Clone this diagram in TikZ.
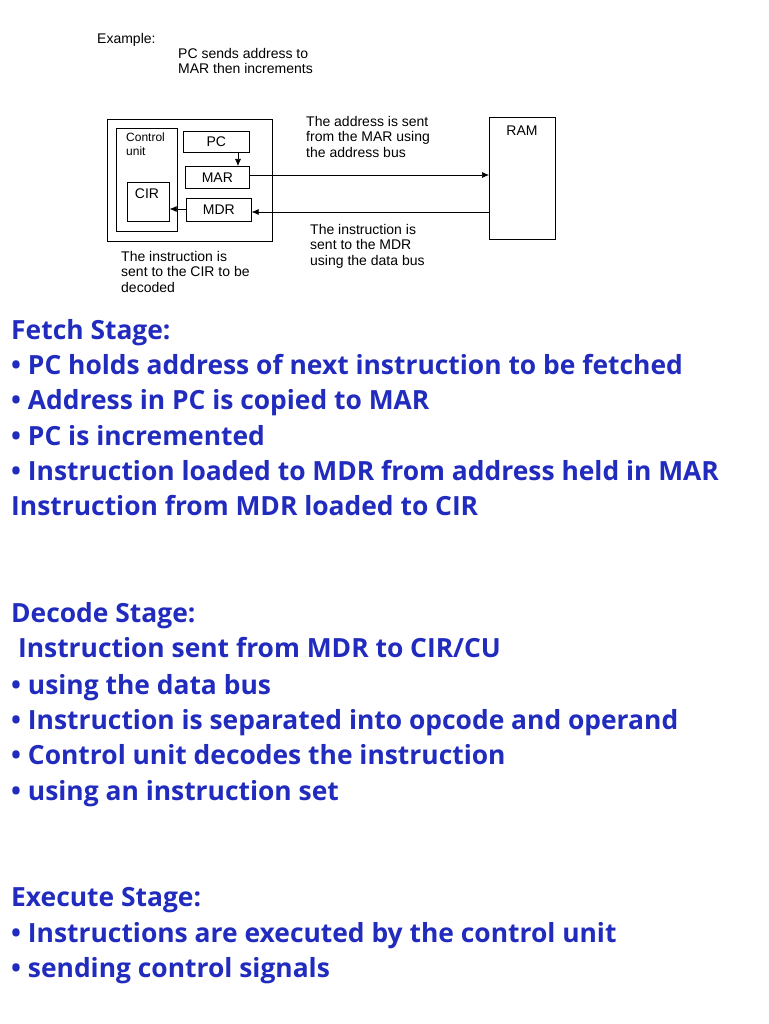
\documentclass[tikz,border=0pt]{standalone}
\usepackage{fontspec}
\setmainfont{Liberation Sans}
\newfontfamily\bluef{Open Sans}
\usetikzlibrary{arrows.meta}
\begin{document}
\begin{tikzpicture}[x=1pt,y=-1pt,
  box/.style={draw,line width=0.7pt},
  sm/.style={font=\fontsize{14}{15.5}\selectfont,align=left,inner sep=0pt},
  bl/.style={font=\bluef\bfseries\fontsize{26.4}{28}\selectfont,text={rgb,255:red,33;green,43;blue,190},anchor=base west,inner sep=0pt},
  arr/.style={-{Latex[length=7pt,width=6pt]},line width=0.6pt}]
\useasboundingbox (0,0) rectangle (768,1024);
\fill[white] (0,0) rectangle (768,1024);
\node[sm,anchor=north west] (ex) at (97,33) {Example:};
\node[sm,anchor=north west] (t1) at (178,48) {PC sends address to\\MAR then increments};
\node[box,minimum width=165pt,minimum height=122pt,anchor=north west] (outer) at (107,119) {};
\node[box,minimum width=61pt,minimum height=103pt,anchor=north west] (cu) at (116,128) {};
\node[sm,anchor=north west,font=\fontsize{12}{13.5}\selectfont] (cul) at (126,133) {Control\\unit};
\node[box,minimum width=66pt,minimum height=21pt,anchor=north west,sm] (pc) at (183,131) {PC};
\node[box,minimum width=64pt,minimum height=22pt,anchor=north west,sm] (mar) at (185,166) {MAR};
\node[box,minimum width=42pt,minimum height=39pt,anchor=north west] (cir) at (127,182) {};
\node[sm] (cirl) at (147,194) {CIR};
\node[box,minimum width=65pt,minimum height=23pt,anchor=north west,sm] (mdr) at (186,198) {MDR};
\node[box,minimum width=66pt,minimum height=122pt,anchor=north west] (ram) at (489,117) {};
\node[sm] (raml) at (522,131) {RAM};
\draw[arr] (238,152) -- (mar.north -| 238,0);
\draw[arr] (mar.east |- 0,175) -- (ram.west |- 0,175);
\draw[arr] (ram.west |- 0,212) -- (mdr.east |- 0,212);
\draw[arr] (mdr.west |- 0,209) -- (cir.east |- 0,209);
\node[sm,anchor=north west] (t2) at (306,116) {The address is sent\\from the MAR using\\the address bus};
\node[sm,anchor=north west] (t3) at (310,224) {The instruction is\\sent to the MDR\\using the data bus};
\node[sm,anchor=north west] (t4) at (121,251) {The instruction is\\sent to the CIR to be\\decoded};
\node[bl] (a1) at (11,339) {Fetch Stage:};
\node[bl] (a2) at (11,374) {• PC holds address of next instruction to be fetched};
\node[bl] (a3) at (11,409) {• Address in PC is copied to MAR};
\node[bl] (a4) at (11,445) {• PC is incremented};
\node[bl] (a5) at (11,480) {• Instruction loaded to MDR from address held in MAR};
\node[bl] (a6) at (11,515) {Instruction from MDR loaded to CIR};
\node[bl] (b1) at (11,622) {Decode Stage:};
\node[bl] (b2) at (11,657) {\ Instruction sent from MDR to CIR/CU};
\node[bl] (b3) at (11,694) {• using the data bus};
\node[bl] (b4) at (11,729) {• Instruction is separated into opcode and operand};
\node[bl] (b5) at (11,764) {• Control unit decodes the instruction};
\node[bl] (b6) at (11,800) {• using an instruction set};
\node[bl] (c1) at (11,906) {Execute Stage:};
\node[bl] (c2) at (11,942) {• Instructions are executed by the control unit};
\node[bl] (c3) at (11,977) {• sending control signals};
\end{tikzpicture}
\end{document}
